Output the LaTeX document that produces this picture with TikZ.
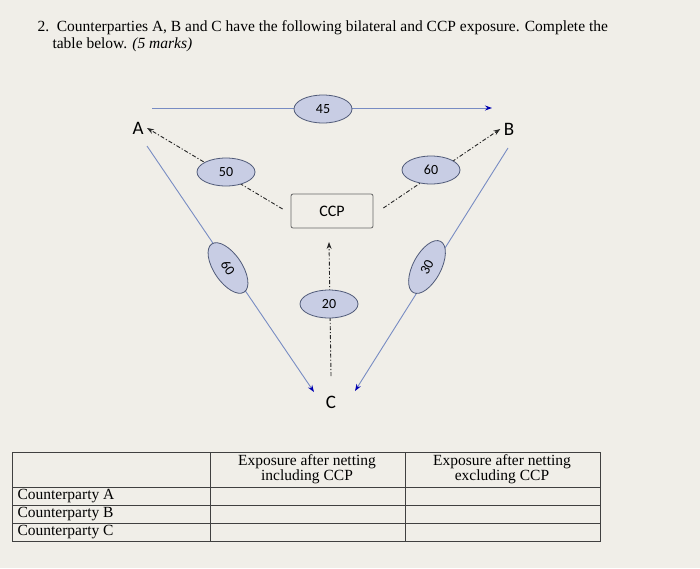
\documentclass[tikz,border=0pt]{standalone}
\usepackage{fontspec}
\setmainfont{Liberation Serif}
\newfontfamily\diag{Carlito}
\usetikzlibrary{shapes.geometric,arrows.meta}
\definecolor{paper}{RGB}{240,238,232}
\definecolor{ellfill}{RGB}{200,205,228}
\definecolor{elldraw}{RGB}{80,90,120}
\definecolor{blueline}{RGB}{120,140,195}
\begin{document}
\begin{tikzpicture}[x=1pt,y=-1pt,
  val/.style={ellipse,draw=elldraw,line width=0.8pt,fill=ellfill,minimum width=58pt,minimum height=28pt,inner sep=0pt,font=\diag\fontsize{14}{14}\selectfont},
  lbl/.style={font=\diag\fontsize{19}{19}\selectfont},
  solidarrow/.style={draw=blueline,line width=0.9pt,-{Stealth[length=7pt,width=5pt,color=blue!70!black]}},
  ddarrow/.style={draw=black!85,line width=0.9pt,dash pattern=on 4pt off 2pt on 1.2pt off 2pt,-{Stealth[length=7pt,width=5pt]}},
  tab/.style={draw=black!75,line width=0.7pt},
  ttext/.style={font=\fontsize{15.5}{15}\selectfont}]
\fill[paper] (0,0) rectangle (700,568);
\node[anchor=west,font=\fontsize{15.5}{15}\selectfont] (t1) at (34,28) {2.\enspace Counterparties A, B and C have the following bilateral and CCP exposure. Complete the};
\node[anchor=west,font=\fontsize{15.5}{15}\selectfont] (t2) at (49,45) {table below. \textit{(5 marks)}};
% nodes
\node[lbl] (A) at (138,128) {A};
\node[lbl] (B) at (509,129) {B};
\node[lbl] (C) at (331,402) {C};
\coordinate (a1) at (152,108);
\coordinate (b1) at (492,108);
\coordinate (a2) at (147,146);
\coordinate (c2) at (314,392);
\coordinate (b3) at (508,148);
\coordinate (c3) at (355,391);
\coordinate (ccpin) at (329,242);
\node[draw=black!60,line width=0.8pt,rounded corners=2pt,minimum width=82pt,minimum height=34pt,font=\diag\fontsize{16}{16}\selectfont] (ccp) at (332,211) {CCP};
% solid
\draw[solidarrow] (a1) -- (b1);
\draw[solidarrow] (a2) -- (c2);
\draw[solidarrow] (b3) -- (c3);
% dash-dot
\draw[ddarrow] (ccp.west) ++(-8,-2) -- (A.east);
\draw[ddarrow] (ccp.east) ++(10,-3) -- (B.west);
\draw[ddarrow] (331,376) -- (ccpin);
% ellipses
\node[val] (e45) at (323,109) {45};
\node[val] (e50) at (226,172) {50};
\node[val] (e60r) at (431,170) {60};
\node[val] (e20) at (329,304) {20};
\node[val,rotate=-56] (e60l) at (228,268) {60};
\node[val,rotate=62] (e30) at (427,267) {30};
% table
\draw[tab] (12,452) rectangle (600,541);
\draw[tab] (210,452) -- (210,541);
\draw[tab] (405,452) -- (405,541);
\draw[tab] (12,487) -- (600,487);
\draw[tab] (12,505) -- (600,505);
\draw[tab] (12,523) -- (600,523);
\node[align=center,ttext] (h1) at (307,469) {Exposure after netting\\including CCP};
\node[align=center,ttext] (h2) at (502,469) {Exposure after netting\\excluding CCP};
\node[anchor=west,ttext] (ra) at (14,496) {Counterparty A};
\node[anchor=west,ttext] (rb) at (14,514) {Counterparty B};
\node[anchor=west,ttext] (rc) at (14,532) {Counterparty C};
\end{tikzpicture}
\end{document}
